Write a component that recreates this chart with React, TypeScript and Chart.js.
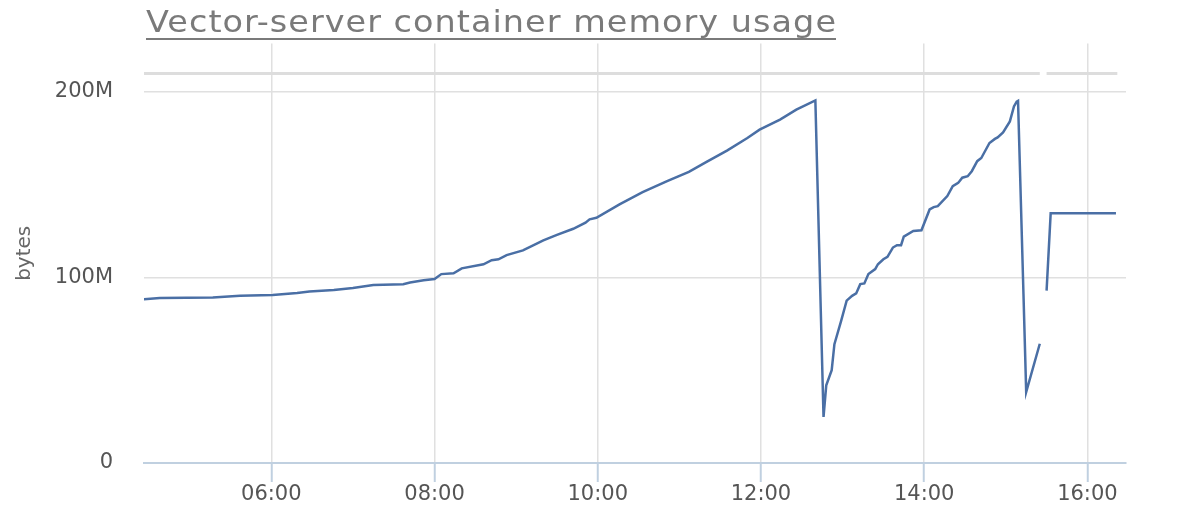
import React, { useEffect, useRef } from "react";
import { Chart, registerables } from "chart.js";

Chart.register(...registerables);

const TITLE = "Vector-server container memory usage";
const Y_TITLE = "bytes";

// memory usage (M bytes) sampled over the day
const memTimes = [
  "04:26", "04:38", "05:17", "05:37", "06:01", "06:19", "06:28", "06:46", "07:00", "07:15",
  "07:37", "07:42", "07:52", "08:00", "08:05", "08:14", "08:20", "08:36", "08:42", "08:47",
  "08:53", "09:05", "09:20", "09:30", "09:42", "09:51", "09:54", "09:59", "10:16", "10:33",
  "10:51", "11:07", "11:20", "11:35", "11:50", "11:59", "12:14", "12:26", "12:40", "12:46",
  "12:48", "12:52", "12:54", "12:59", "13:03", "13:07", "13:10", "13:13", "13:16", "13:19",
  "13:24", "13:26", "13:30", "13:33", "13:37", "13:40", "13:43", "13:45", "13:52", "13:58",
  "14:04", "14:07", "14:10", "14:17", "14:21", "14:25", "14:28", "14:32", "14:35", "14:39",
  "14:42", "14:48", "14:52", "14:54", "14:58", "15:03", "15:06", "15:08", "15:09", "15:13",
  "15:15", "15:25", "15:27", "15:30", "15:33", "16:21",
];
const memValues: (number | null)[] = [
  88.2, 88.8, 89.1, 90.0, 90.4, 91.5, 92.3, 93.1, 94.2, 95.8,
  96.3, 97.2, 98.4, 99.0, 101.7, 102.1, 104.8, 107.0, 109.2, 109.7,
  111.9, 114.5, 119.9, 122.8, 126.1, 129.4, 131.2, 132.0, 139.2, 145.8,
  151.7, 156.7, 162.1, 168.2, 175.0, 179.5, 184.9, 190.2, 195.2, 24.8,
  41.8, 50.0, 64.0, 76.7, 87.4, 90.0, 91.3, 96.3, 96.7, 101.7,
  104.4, 107.0, 109.7, 111.0, 116.0, 117.3, 117.3, 121.9, 124.9, 125.3,
  136.5, 137.8, 138.3, 143.7, 149.0, 150.8, 153.6, 154.4, 157.1, 162.5,
  164.2, 172.3, 174.5, 175.3, 178.0, 183.9, 192.0, 194.6, 195.0, 91.0,
  38.2, 64.2, null, 92.8, 134.4, 134.4,
];

// container memory limit (M bytes)
const limitTimes = ["04:26", "15:25", "15:27", "15:30", "16:22"];
const limitValues: (number | null)[] = [209.7, 209.7, null, 209.7, 209.7];

const xTickHours = [6, 8, 10, 12, 14, 16];
const yTickValues = [0, 100, 200];
const X_MIN = 4.44;
const X_MAX = 16.473;
const Y_MIN = 0;
const Y_MAX = 225.8;

const toHours = (s: string) => {
  const [h, m] = s.split(":").map(Number);
  return h + m / 60;
};

const FONT = '"DejaVu Sans", "Lucida Grande", sans-serif';

const titlePlugin = {
  id: "underlinedTitle",
  afterDraw(chart: any) {
    const ctx: CanvasRenderingContext2D = chart.ctx;
    const area = chart.chartArea;
    ctx.save();
    ctx.font = `31px ${FONT}`;
    const target = 690;
    const w0 = ctx.measureText(TITLE).width;
    const sx = Math.min(1.08, target / w0);
    const rest = target / sx - w0;
    const ls = rest / (TITLE.length - 1);
    const x = area.left + 2;
    ctx.fillStyle = "#7a7a7a";
    ctx.fillRect(x, 38, target, 2);
    ctx.translate(x, 32);
    ctx.scale(sx, 1);
    (ctx as any).letterSpacing = `${ls}px`;
    ctx.textBaseline = "alphabetic";
    ctx.textAlign = "left";
    ctx.fillText(TITLE, 0, 0);
    ctx.restore();
  },
};

export default function App() {
  const ref = useRef<HTMLCanvasElement | null>(null);

  useEffect(() => {
    if (!ref.current) return;
    const memData = memTimes.map((t, i) => ({ x: toHours(t), y: memValues[i] }));
    const limitData = limitTimes.map((t, i) => ({ x: toHours(t), y: limitValues[i] }));

    const chart = new Chart(ref.current, {
      type: "line",
      data: {
        datasets: [
          {
            label: "limit",
            data: limitData as any,
            borderColor: "#dddddd",
            borderWidth: 3,
            pointRadius: 0,
            tension: 0,
            spanGaps: false,
          },
          {
            label: "memory",
            data: memData as any,
            borderColor: "#4a6fa5",
            borderWidth: 2.5,
            pointRadius: 0,
            tension: 0,
            spanGaps: false,
          },
        ],
      },
      options: {
        animation: false,
        responsive: false,
        devicePixelRatio: 1,
        layout: { padding: { top: 42, right: 62, left: 0, bottom: 0 } },
        plugins: {
          legend: { display: false },
          tooltip: { enabled: false },
          title: { display: false },
        },
        scales: {
          x: {
            type: "linear",
            min: X_MIN,
            max: X_MAX,
            afterBuildTicks: (scale: any) => {
              scale.ticks = xTickHours.map((v) => ({ value: v }));
            },
            afterFit: (scale: any) => {
              scale.height = 53;
            },
            ticks: {
              padding: 0,
              maxRotation: 0,
              autoSkip: false,
              color: "#555555",
              font: { family: FONT, size: 21 },
              callback: (v: any) => `${String(v).padStart(2, "0")}:00`,
            },
            grid: {
              color: "#e0e0e0",
              lineWidth: 1.5,
              drawTicks: true,
              tickLength: 19,
              tickColor: "#c0d0e0",
              tickWidth: 2,
            },
            border: { display: true, color: "#c0d0e0", width: 2 },
          },
          y: {
            type: "linear",
            min: Y_MIN,
            max: Y_MAX,
            afterBuildTicks: (scale: any) => {
              scale.ticks = yTickValues.map((v) => ({ value: v }));
            },
            afterFit: (scale: any) => {
              scale.width = 144;
            },
            ticks: {
              padding: 31,
              color: "#555555",
              font: { family: FONT, size: 21 },
              callback: (v: any) => (Number(v) === 0 ? "0" : `${v}M`),
            },
            grid: {
              color: (c: any) => (c.tick && c.tick.value === 0 ? "rgba(0,0,0,0)" : "#e0e0e0"),
              lineWidth: 1.5,
              drawTicks: false,
            },
            border: { display: false },
            title: {
              display: true,
              text: Y_TITLE,
              color: "#666666",
              font: { family: FONT, size: 20 },
              padding: { top: 13, bottom: 0 },
            },
          },
        },
      },
      plugins: [titlePlugin],
    });
    return () => chart.destroy();
  }, []);

  return (
    <div style={{ position: "absolute", left: 0, top: 0, width: 1188, height: 516, background: "#fff" }}>
      <canvas ref={ref} width={1188} height={516} style={{ width: 1188, height: 516, display: "block" }} />
    </div>
  );
}
